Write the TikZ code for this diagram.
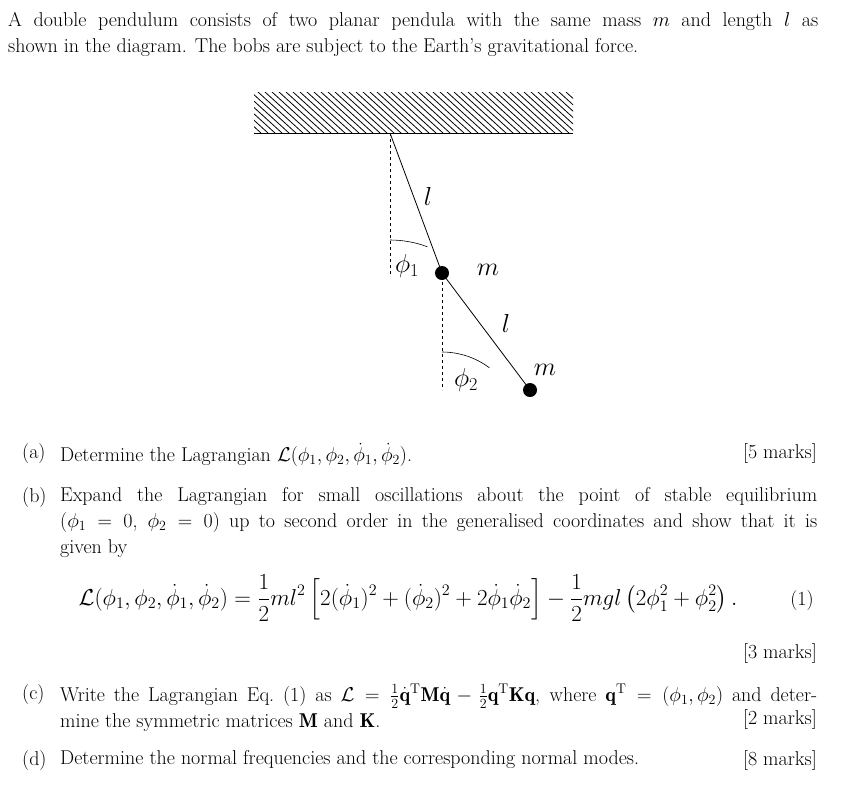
\RequirePackage{fix-cm}
\documentclass[tikz,border=0pt]{standalone}
\usepackage{amsmath,amssymb}
\usepackage{fontspec}
\begin{document}
\begin{tikzpicture}[x=1pt,y=-1pt,
  txt/.style={anchor=north west,inner sep=0pt,font=\fontsize{20}{26}\selectfont,align=justify},
  lab/.style={inner sep=0pt,font=\fontsize{26}{28}\selectfont},
  bob/.style={circle,fill=black,minimum size=14pt,inner sep=0pt},
  rod/.style={line width=0.8pt},
  vert/.style={dashed,line width=0.6pt}]
\useasboundingbox (0,0) rectangle (849,788);
\node[txt,text width=810pt] (intro) at (8,12) {A double pendulum consists of two planar pendula with the same mass $m$ and length $l$ as\linebreak shown in the diagram. The bobs are subject to the Earth's gravitational force.};
% diagram
\begin{scope}
\clip (254,92) rectangle (573,133);
\foreach \i in {0,7,...,380} \draw[line width=0.8pt] (254+\i-45,92) -- (254+\i,133);
\end{scope}
\draw[line width=1pt] (254,133) -- (573,133);
\coordinate (P) at (390,133);
\node[bob] (b1) at (442,273) {};
\node[bob] (b2) at (530,390) {};
\draw[rod] (P) -- (b1.center);
\draw[rod] (b1.center) -- (b2.center);
\draw[vert] (P) -- (390,275);
\draw[vert] (442,282) -- (442,390);
\draw[line width=0.6pt] (390,240) arc[start angle=-90,end angle={-90+20.4},radius=107];
\draw[line width=0.6pt] (442,352) arc[start angle=-90,end angle={-90+37},radius=79];
\node[lab] (l1) at (428,196) {$l$};
\node[lab] (l2) at (506,323) {$l$};
\node[lab] (m1) at (488,270) {$m$};
\node[lab] (m2) at (545,370) {$m$};
\node[lab] (p1) at (407,266) {$\phi_1$};
\node[lab] (p2) at (466,380) {$\phi_2$};
% questions
\node[txt] (a) at (22,443) {(a)};
\node[txt] (at) at (60,443) {Determine the Lagrangian $\mathcal{L}(\phi_1,\phi_2,\dot\phi_1,\dot\phi_2)$.};
\node[txt,anchor=north east] (am) at (817,443) {[5 marks]};
\node[txt] (b) at (22,487) {(b)};
\node[txt,text width=757pt] (bt) at (60,487) {Expand the Lagrangian for small oscillations about the point of stable equilibrium\linebreak ($\phi_1=0$, $\phi_2=0$) up to second order in the generalised coordinates and show that it is\linebreak given by};
\node[txt,anchor=center,font=\fontsize{23}{26}\selectfont] (eq) at (408,598) {$\displaystyle \mathcal{L}(\phi_1,\phi_2,\dot\phi_1,\dot\phi_2)=\frac{1}{2}ml^2\left[2(\dot\phi_1)^2+(\dot\phi_2)^2+2\dot\phi_1\dot\phi_2\right]-\frac{1}{2}mgl\left(2\phi_1^2+\phi_2^2\right).$};
\node[txt,anchor=center] (eqn) at (802,600) {(1)};
\node[txt,anchor=north east] (bm) at (817,643) {[3 marks]};
\node[txt] (c) at (22,684) {(c)};
\node[txt,text width=757pt] (ct) at (60,684) {Write the Lagrangian Eq.~(1) as $\mathcal{L}=\frac12\dot{\mathbf q}^{\mathrm T}\mathbf M\dot{\mathbf q}-\frac12\mathbf q^{\mathrm T}\mathbf K\mathbf q$, where $\mathbf q^{\mathrm T}=(\phi_1,\phi_2)$ and deter-\linebreak mine the symmetric matrices $\mathbf M$ and $\mathbf K$.};
\node[txt,anchor=north east] (cm) at (817,709) {[2 marks]};
\node[txt] (d) at (22,750) {(d)};
\node[txt] (dt) at (60,750) {Determine the normal frequencies and the corresponding normal modes.};
\node[txt,anchor=north east] (dm) at (817,750) {[8 marks]};
\end{tikzpicture}
\end{document}
